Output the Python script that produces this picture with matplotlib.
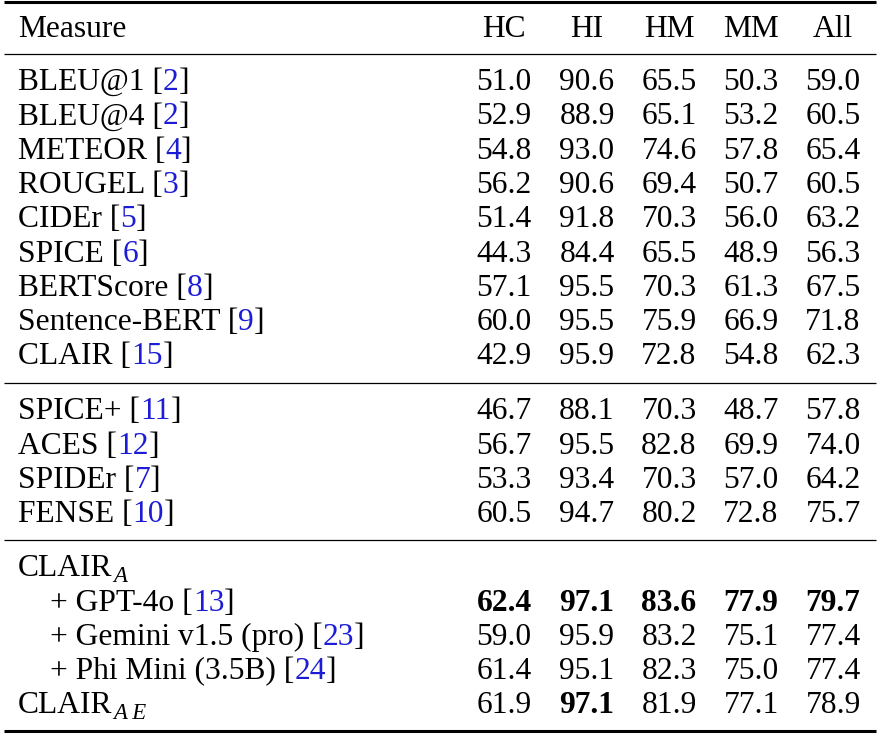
import matplotlib
matplotlib.use("Agg")
import matplotlib.pyplot as plt

plt.rcParams['font.family'] = ['Liberation Serif', 'DejaVu Serif']

# Table content
columns = ["HC", "HI", "HM", "MM", "All"]

group1_names = ["BLEU@1 ", "BLEU@4 ", "METEOR ", "ROUGEL ", "CIDEr ", "SPICE ",
                "BERTScore ", "Sentence-BERT ", "CLAIR "]
group1_refs = ["2", "2", "4", "3", "5", "6", "8", "9", "15"]
group1_vals = [
    [51.0, 90.6, 65.5, 50.3, 59.0],
    [52.9, 88.9, 65.1, 53.2, 60.5],
    [54.8, 93.0, 74.6, 57.8, 65.4],
    [56.2, 90.6, 69.4, 50.7, 60.5],
    [51.4, 91.8, 70.3, 56.0, 63.2],
    [44.3, 84.4, 65.5, 48.9, 56.3],
    [57.1, 95.5, 70.3, 61.3, 67.5],
    [60.0, 95.5, 75.9, 66.9, 71.8],
    [42.9, 95.9, 72.8, 54.8, 62.3],
]

group2_names = ["SPICE+ ", "ACES ", "SPIDEr ", "FENSE "]
group2_refs = ["11", "12", "7", "10"]
group2_vals = [
    [46.7, 88.1, 70.3, 48.7, 57.8],
    [56.7, 95.5, 82.8, 69.9, 74.0],
    [53.3, 93.4, 70.3, 57.0, 64.2],
    [60.5, 94.7, 80.2, 72.8, 75.7],
]

group3_names = ["CLAIR", "+ GPT-4o ", "+ Gemini v1.5 (pro) ",
                "+ Phi Mini (3.5B) ", "CLAIR"]
group3_subs = ["A", None, None, None, "A E"]
group3_refs = [None, "13", "23", "24", None]
group3_indent = [False, True, True, True, False]
group3_vals = [
    None,
    [62.4, 97.1, 83.6, 77.9, 79.7],
    [59.0, 95.9, 83.2, 75.1, 77.4],
    [61.4, 95.1, 82.3, 75.0, 77.4],
    [61.9, 97.1, 81.9, 77.1, 78.9],
]
group3_bold = [
    None,
    [True, True, True, True, True],
    [False] * 5,
    [False] * 5,
    [False, True, False, False, False],
]

# Layout (pixels)
W, H = 881, 735
col_x = [504, 587, 669, 751, 833]
x_left = 18
x_indent = 50
row_step = 34.3
fs = 22.7
blue = '#1c1cd6'

fig = plt.figure(figsize=(W / 100, H / 100), dpi=100)
ax = fig.add_axes([0, 0, 1, 1])
ax.set_xlim(0, W)
ax.set_ylim(H, 0)
ax.axis('off')


def hrule(y, lw):
    ax.plot([4, 876], [y, y], color='black', lw=lw, solid_capstyle='butt')


def name_cell(x, y, name, ref, sub=None):
    if ref is None:
        t = ax.text(x, y, name, fontsize=fs, ha='left', va='baseline')
        if sub:
            # subscript in italic, a bit smaller and lowered
            ax.annotate(sub, xy=(1, 0), xycoords=t, xytext=(0.5, -2.5),
                        textcoords='offset points', fontsize=fs * 0.72,
                        style='italic', ha='left', va='bottom')
        return
    t = ax.text(x, y, name + "[", fontsize=fs, ha='left', va='baseline')
    t = ax.annotate(ref, xy=(1, 0), xycoords=t, fontsize=fs, color=blue,
                    ha='left', va='bottom')
    ax.annotate("]", xy=(1, 0), xycoords=t, fontsize=fs, ha='left', va='bottom')


def value_cells(y, vals, bold=None):
    for j, v in enumerate(vals):
        w = 'bold' if bold is not None and bold[j] else 'normal'
        ax.text(col_x[j], y, f"{v:.1f}", fontsize=fs, ha='center',
                va='baseline', fontweight=w)


# header
hrule(1.5, 2.2)
y = 37
ax.text(x_left, y, "Measure", fontsize=fs, ha='left', va='baseline')
for j, c in enumerate(columns):
    ax.text(col_x[j], y, c, fontsize=fs, ha='center', va='baseline')
rule = y + 17
hrule(rule, 0.9)

# group 1
y = rule + 36
for i in range(len(group1_names)):
    name_cell(x_left, y, group1_names[i], group1_refs[i])
    value_cells(y, group1_vals[i])
    y += row_step
rule = y - row_step + 19
hrule(rule, 0.9)

# group 2
y = rule + 36
for i in range(len(group2_names)):
    name_cell(x_left, y, group2_names[i], group2_refs[i])
    value_cells(y, group2_vals[i])
    y += row_step
rule = y - row_step + 18
hrule(rule, 0.9)

# group 3
y = rule + 36
for i in range(len(group3_names)):
    x = x_indent if group3_indent[i] else x_left
    name_cell(x, y, group3_names[i], group3_refs[i], group3_subs[i])
    if group3_vals[i] is not None:
        value_cells(y, group3_vals[i], group3_bold[i])
    y += row_step
rule = y - row_step + 18
hrule(rule, 2.2)

fig.savefig("out.png", dpi=100)
